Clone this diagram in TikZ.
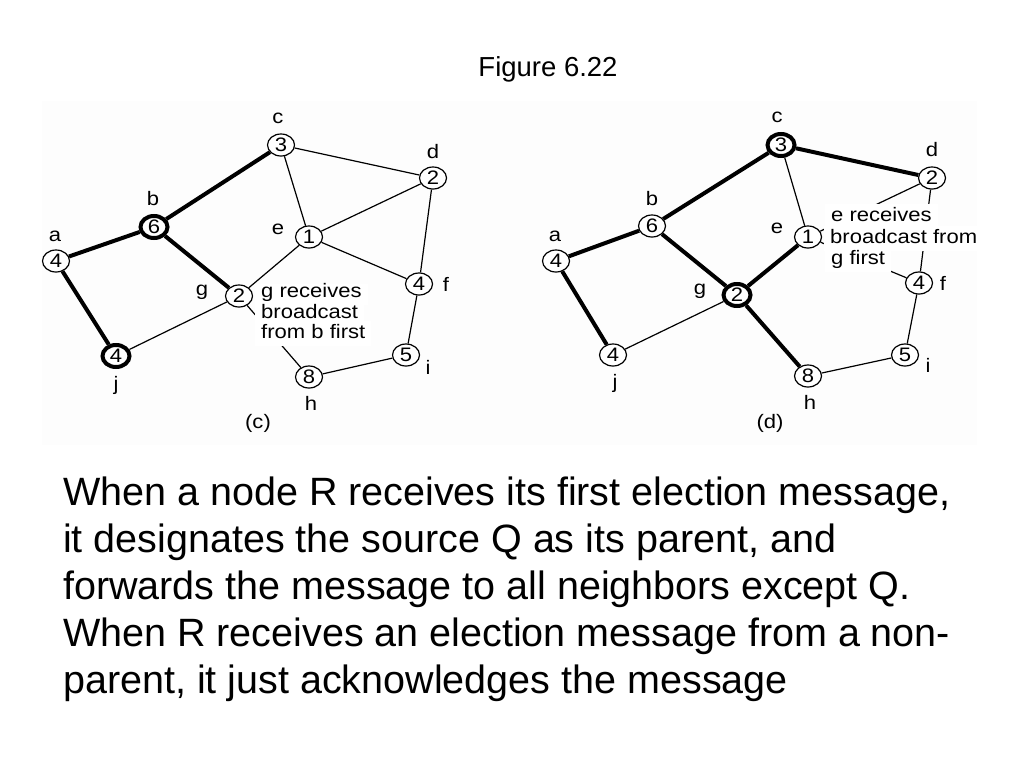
\documentclass[tikz,border=0pt]{standalone}
\usepackage{fontspec}
\setmainfont{Liberation Sans}
\newfontfamily\figfont[FakeStretch=1.13]{Liberation Sans}
\usetikzlibrary{shapes.geometric}
\definecolor{panelbg}{RGB}{253,253,253}
\begin{document}
\begin{tikzpicture}[x=1pt,y=-1pt,
  figtxt/.style={font=\figfont\fontsize{19.5}{21}\selectfont},
  nd/.style={ellipse,draw,fill=white,line width=1.2pt,minimum width=27pt,minimum height=22pt,inner sep=0pt,figtxt},
  ndk/.style={nd,line width=4pt},
  lbl/.style={figtxt,inner sep=0pt},
  ln/.style={line width=1.2pt},
  lk/.style={line width=4pt},
  cover/.style={figtxt,fill=white,inner xsep=6pt,inner ysep=3pt,text height=14pt,text depth=5pt,anchor=base west},
  body/.style={font=\fontsize{39.5}{47}\selectfont,inner sep=0pt,anchor=base west}
]
\useasboundingbox (0,0) rectangle (1024,768);
\fill[white] (0,0) rectangle (1024,768);
\fill[panelbg] (42,101) rectangle (977,445);

% title
\node[font=\fontsize{27.5}{33}\selectfont,inner sep=0pt,anchor=base] (title) at (548,77) {Figure 6.22};

% ---------- panel (c) ----------
\node[nd]  (ca) at (56,261) {4};
\node[ndk] (cb) at (154,227) {6};
\node[nd]  (cc) at (281,145) {3};
\node[nd]  (cd) at (433,178) {2};
\node[nd]  (ce) at (309,237) {1};
\node[nd]  (cf) at (419,284) {4};
\node[nd]  (cg) at (239,296) {2};
\node[ndk] (cj) at (116,356) {4};
\node[nd]  (ci) at (406,355) {5};
\node[nd]  (ch) at (309,377) {8};

\draw[lk] (ca) -- (cb);
\draw[lk] (cb) -- (cc);
\draw[lk] (cb) -- (cg);
\draw[lk] (ca) -- (cj);
\draw[ln] (cc) -- (cd);
\draw[ln] (cc) -- (ce);
\draw[ln] (cd) -- (ce);
\draw[ln] (cd) -- (cf);
\draw[ln] (ce) -- (cf);
\draw[ln] (ce) -- (cg);
\draw[ln] (cg) -- (cj);
\draw[ln] (cf) -- (ci);
\draw[ln] (ci) -- (ch);
\draw[ln] (cg) -- (ch);

\node[lbl] (lca) at (55,236) {a};
\node[lbl] (lcb) at (153,199) {b};
\node[lbl] (lcc) at (278,118) {c};
\node[lbl] (lcd) at (433,152) {d};
\node[lbl] (lce) at (278,229) {e};
\node[lbl] (lcf) at (446,284) {f};
\node[lbl] (lcg) at (202,292) {g};
\node[lbl] (lch) at (311,403) {h};
\node[lbl] (lci) at (428,367) {i};
\node[lbl] (lcj) at (116,385) {j};

\node[cover,text height=10pt] (ct1) at (255,297) {g receives};
\node[cover] (ct2) at (255,318) {broadcast};
\node[cover] (ct3) at (255,338) {from b first};

\node[lbl] (capc) at (258,423) {(c)};

% ---------- panel (d) ----------
\node[nd]  (da) at (556,261) {4};
\node[nd]  (db) at (652,226) {6};
\node[ndk] (dc) at (781,145) {3};
\node[nd]  (dd) at (932,178) {2};
\node[nd]  (de) at (808,237) {1};
\node[nd]  (df) at (919,283) {4};
\node[ndk] (dg) at (737,295) {2};
\node[nd]  (dj) at (613,355) {4};
\node[nd]  (di) at (905,355) {5};
\node[nd]  (dh) at (808,376) {8};

\draw[lk] (da) -- (db);
\draw[lk] (db) -- (dc);
\draw[lk] (dc) -- (dd);
\draw[lk] (db) -- (dg);
\draw[lk] (dg) -- (de);
\draw[lk] (dg) -- (dh);
\draw[lk] (da) -- (dj);
\draw[ln] (dc) -- (de);
\draw[ln] (dg) -- (dj);
\draw[ln] (df) -- (di);
\draw[ln] (di) -- (dh);
\draw[ln] (dd) -- (de);
\draw[ln] (dd) -- (df);
\draw[ln] (de) -- (df);

\node[lbl] (lda) at (555,236) {a};
\node[lbl] (ldb) at (652,199) {b};
\node[lbl] (ldc) at (777,117) {c};
\node[lbl] (ldd) at (932,150) {d};
\node[lbl] (lde) at (777,228) {e};
\node[lbl] (ldf) at (943,283) {f};
\node[lbl] (ldg) at (700,291) {g};
\node[lbl] (ldh) at (810,402) {h};
\node[lbl] (ldi) at (928,365) {i};
\node[lbl] (ldj) at (615,383) {j};

\node[cover] (dt1) at (825,221) {e receives};
\node[cover] (dt2) at (824,243) {broadcast from};
\node[cover] (dt3) at (825,264) {g first};

\node[lbl] (capd) at (770,423) {(d)};

% ---------- body text ----------
\node[body] (t1) at (63,505) {When a node R receives its first election message,};
\node[body] (t2) at (63,552) {it designates the source Q as its parent, and};
\node[body] (t3) at (63,599) {forwards the message to all neighbors except Q.};
\node[body] (t4) at (63,646) {When R receives an election message from a non-};
\node[body] (t5) at (63,693) {parent, it just acknowledges the message};
\end{tikzpicture}
\end{document}
